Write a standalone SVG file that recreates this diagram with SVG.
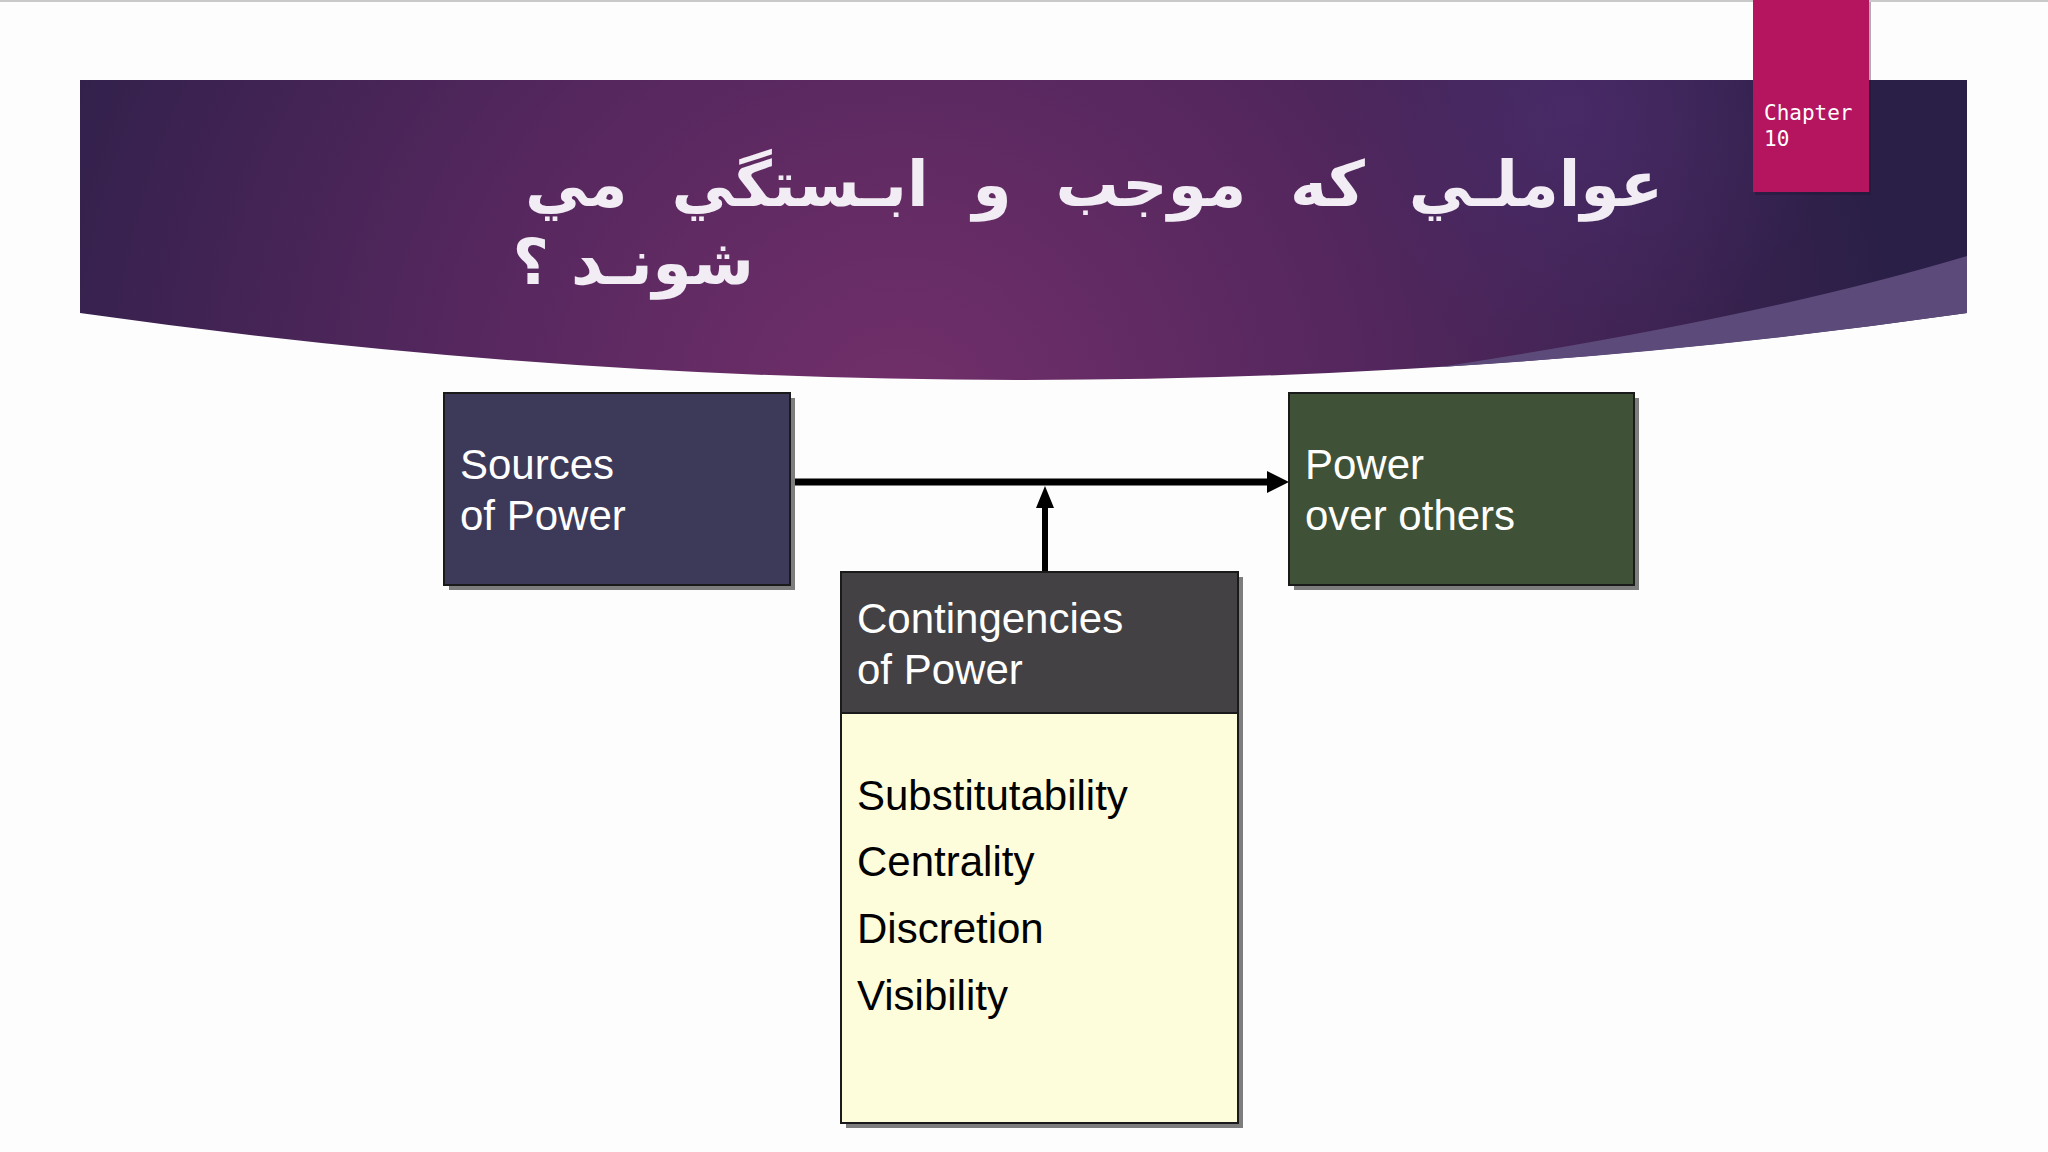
<svg xmlns="http://www.w3.org/2000/svg" width="2048" height="1152" viewBox="0 0 2048 1152">
<defs>
<radialGradient id="bannerGrad" cx="900" cy="420" r="1000" gradientUnits="userSpaceOnUse">
<stop offset="0" stop-color="#722f6a"/>
<stop offset="0.45" stop-color="#55275e"/>
<stop offset="1" stop-color="#2a1f47"/>
</radialGradient>
<radialGradient id="glow" cx="1570" cy="110" r="260" gradientUnits="userSpaceOnUse">
<stop offset="0" stop-color="#4a2c6c" stop-opacity="0.8"/>
<stop offset="1" stop-color="#4a2c6c" stop-opacity="0"/>
</radialGradient>
<marker id="arrowH" markerUnits="userSpaceOnUse" markerWidth="24" markerHeight="24" refX="8" refY="11" orient="auto">
<path d="M0,0 L22,11 L0,22 Z" fill="#000"/>
</marker>
<style>
.box{stroke:#1a1a1a;stroke-width:2}
.shadow{fill:#7d7d7d}
.lbl{font-family:"Liberation Sans",Arial,sans-serif;font-size:42px;fill:#ffffff}
.item{font-family:"Liberation Sans",Arial,sans-serif;font-size:42px;fill:#000000}
.title{font-family:"DejaVu Sans","Noto Sans",sans-serif;font-weight:bold;font-size:63px;fill:#f2ecf4}
.chap{font-family:"DejaVu Sans Mono","Liberation Mono",monospace;font-size:21px;fill:#ffffff}
.conn{stroke:#000;fill:none}
</style>
</defs>
<rect x="0" y="0" width="2048" height="1152" fill="#fdfdfd"/>
<rect x="0" y="0" width="2048" height="2" fill="#c9c9c9"/>
<g id="banner">
<path d="M80,80 L1967,80 L1967,313 Q1024,447 80,313 Z" fill="url(#bannerGrad)"/>
<path d="M80,80 L1967,80 L1967,313 Q1024,447 80,313 Z" fill="url(#glow)"/>
<path d="M1440,367 Q1760,318 1967,256 L1967,313 Q1703,351 1440,367 Z" fill="#5c4b7a"/>
</g>
<g id="chapter-tab">
<rect x="1755" y="2" width="116" height="193" fill="#1d1530" opacity="0.35"/>
<rect x="1753" y="0" width="116" height="192" fill="#b5145f"/>
<text class="chap" x="1764" y="120">Chapter</text>
<text class="chap" x="1764" y="146">10</text>
</g>
<g id="title">
<text class="title" x="1663" y="206" direction="rtl" unicode-bidi="embed" text-anchor="start" word-spacing="22">عواملـي كه  موجب و ابـستگي مي</text>
<text class="title" x="754" y="284" direction="rtl" unicode-bidi="embed" text-anchor="start">شونـد ؟</text>
</g>
<g id="connectors">
<line class="conn" x1="790" y1="482" x2="1275" y2="482" stroke-width="7" marker-end="url(#arrowH)"/>
<line class="conn" x1="1045" y1="572" x2="1045" y2="500" stroke-width="6"/>
<path d="M1045,486 L1054,508 L1036,508 Z" fill="#000"/>
</g>
<g id="node-sources">
<rect class="shadow" x="449" y="398" width="346" height="192"/>
<rect class="box" x="444" y="393" width="346" height="192" fill="#3d3959"/>
<text class="lbl" x="460" y="479">Sources</text>
<text class="lbl" x="460" y="530">of Power</text>
</g>
<g id="node-power">
<rect class="shadow" x="1294" y="398" width="345" height="192"/>
<rect class="box" x="1289" y="393" width="345" height="192" fill="#3f5136"/>
<text class="lbl" x="1305" y="479">Power</text>
<text class="lbl" x="1305" y="530">over others</text>
</g>
<g id="node-contingencies">
<rect class="shadow" x="846" y="577" width="397" height="551"/>
<rect class="box" x="841" y="713" width="397" height="410" fill="#fefddb"/>
<rect class="box" x="841" y="572" width="397" height="141" fill="#434144"/>
<text class="lbl" x="857" y="633">Contingencies</text>
<text class="lbl" x="857" y="684">of Power</text>
<text class="item" x="857" y="810">Substitutability</text>
<text class="item" x="857" y="876">Centrality</text>
<text class="item" x="857" y="943">Discretion</text>
<text class="item" x="857" y="1010">Visibility</text>
</g>
</svg>
